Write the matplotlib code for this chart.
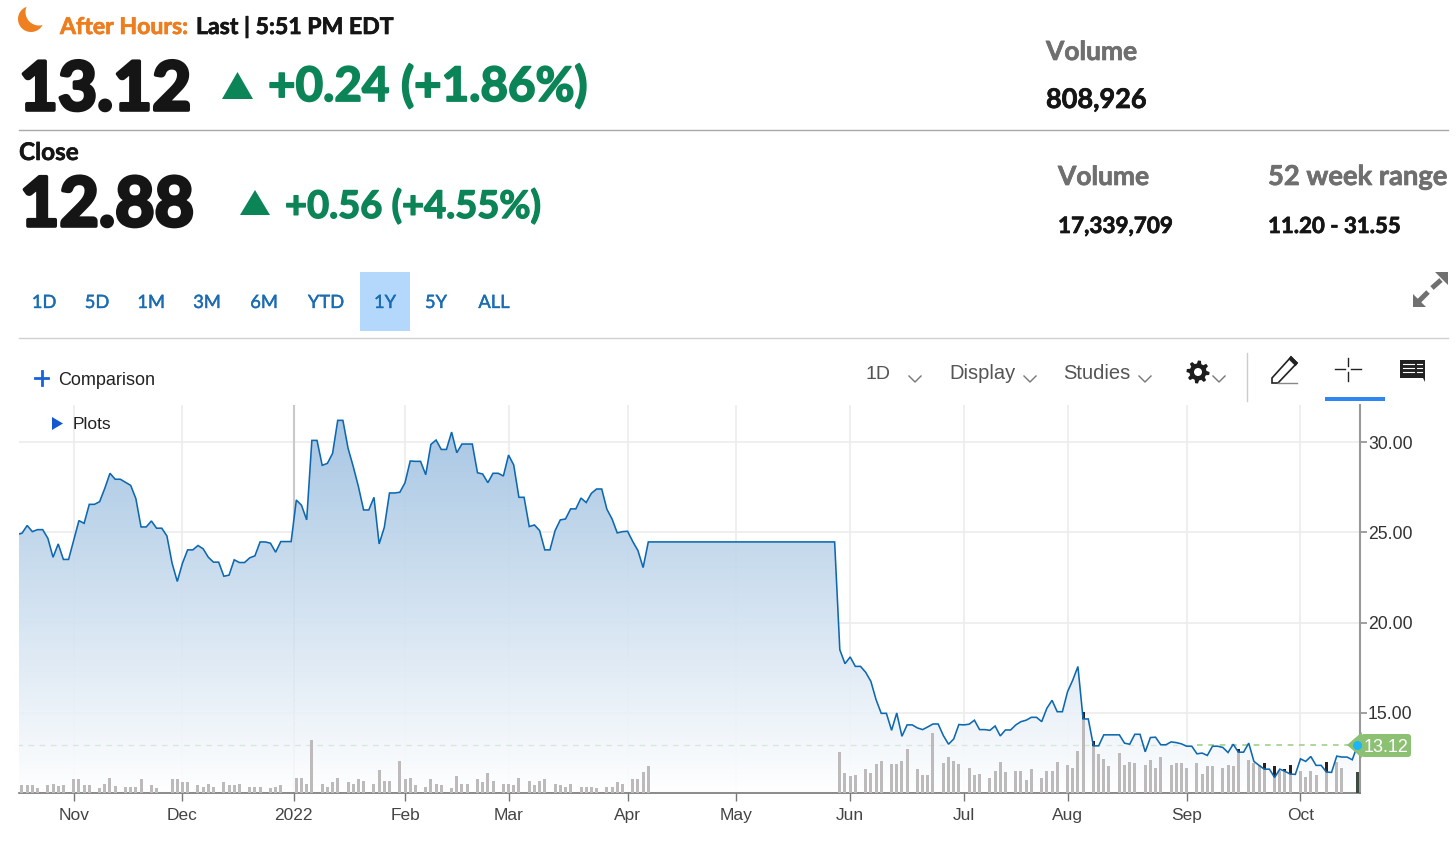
import numpy as np
import matplotlib
matplotlib.use("Agg")
import matplotlib.pyplot as plt
import matplotlib.patheffects as pe
from matplotlib.patches import Circle, Polygon, Rectangle, FancyBboxPatch

# close price per trading day
price = [24.88, 24.95, 25.38, 25.04, 25.15, 25.15, 24.67, 23.62, 24.36, 23.50,
         23.50, 24.58, 25.65, 25.50, 26.55, 26.55, 26.70, 27.44, 28.27, 27.94,
         27.94, 27.77, 27.60, 26.87, 25.30, 25.30, 25.63, 25.23, 25.23, 24.80,
         23.29, 22.28, 23.29, 24.03, 24.03, 24.27, 24.09, 23.62, 23.35, 23.35,
         22.57, 22.63, 23.48, 23.33, 23.33, 23.59, 23.70, 24.47, 24.47, 24.40,
         23.90, 24.49, 24.49, 24.49, 26.79, 26.50, 25.69, 30.09, 30.09, 28.71,
         28.82, 29.37, 31.20, 31.20, 29.65, 28.64, 27.53, 26.24, 26.24, 26.94,
         24.36, 25.28, 27.18, 27.18, 27.22, 27.75, 28.95, 28.93, 28.93, 28.19,
         29.87, 30.11, 29.59, 29.59, 30.55, 29.41, 29.89, 29.89, 29.89, 28.30,
         28.23, 27.75, 28.27, 28.27, 28.12, 29.28, 28.73, 26.94, 26.94, 25.32,
         25.41, 25.10, 24.03, 24.03, 25.10, 25.69, 25.74, 26.30, 26.30, 26.90,
         26.65, 27.16, 27.40, 27.40, 26.28, 25.74, 24.97, 25.04, 25.06, 24.49,
         23.99, 23.05,
         24.47, 24.47, 24.47, 24.47, 24.47, 24.47, 24.47, 24.47, 24.47, 24.47,
         24.47, 24.47, 24.47, 24.47, 24.47, 24.47, 24.47, 24.47, 24.47, 24.47,
         24.47, 24.47, 24.47, 24.47, 24.47, 24.47, 24.47, 24.47, 24.47, 24.47,
         24.47, 24.47, 24.47, 24.47, 24.47, 24.47, 24.47,
         18.50, 17.73, 18.10, 17.58, 17.58, 17.25, 16.75, 15.74, 14.98, 14.98,
         14.04, 15.00, 13.71, 14.34, 14.34, 14.17, 14.08, 14.23, 14.39, 14.39,
         13.75, 13.27, 13.56, 14.36,
         14.34, 14.38, 14.60, 14.08, 14.08, 14.04, 14.28, 13.73, 14.06, 14.06,
         14.34, 14.52, 14.60, 14.76, 14.76, 14.52, 15.26, 15.70, 15.07, 15.07,
         16.18, 16.82, 17.57, 14.67, 14.67, 13.18, 13.18, 13.79, 13.79, 13.79,
         13.79, 13.33, 13.27, 13.82, 13.82, 12.85, 13.64, 13.66, 13.24, 13.24,
         13.40, 13.36, 13.29, 13.16, 13.16, 12.74, 12.78, 12.65, 13.16, 13.16,
         13.09, 12.81, 13.27, 12.83, 12.83, 13.33, 12.32, 12.10, 11.89, 11.89,
         11.43, 11.89, 11.77, 11.62, 11.60, 12.46, 12.32, 12.59, 12.10, 12.10,
         11.73, 11.71, 12.61, 12.56, 12.56, 12.41, 13.20]

# volume bars: trading day number and volume in millions
vol_days = [1, 2, 3, 4, 6, 7, 8, 9, 11, 12, 13, 14, 16, 17, 18, 19, 21, 22, 23, 24,
            26, 27, 30, 31, 32, 33, 35, 36, 37, 38, 40, 41, 42, 43, 45, 46, 47, 49, 50, 51,
            54, 55, 56, 57, 59, 60, 61, 62, 64, 65, 66, 67, 69, 70, 71, 72, 74, 75, 76, 77,
            79, 80, 81, 82, 84, 85, 86, 87, 89, 90, 91, 92, 94, 95, 96, 97, 99, 100, 101, 102,
            104, 105, 106, 107, 109, 110, 111, 112, 114, 115, 116, 117, 119, 120, 121, 122,
            159, 160, 161, 162, 164, 165, 166, 167, 169, 170, 171, 172, 174, 175, 176, 177,
            179, 180, 181, 182, 184, 185, 186, 188, 189, 190, 191, 193, 194, 195, 196,
            198, 199, 200, 201, 203, 204, 205, 206, 208, 209, 210, 211, 213, 214, 215, 216,
            218, 219, 220, 221, 223, 224, 225, 226, 228, 229, 230, 231, 233, 234, 235, 236,
            238, 239, 240, 241, 243, 244, 245, 246, 248, 249, 250, 251, 253, 255, 256, 259]
vol_millions = [6.4, 6.4, 6.4, 4.2, 6.4, 7.8, 5.6, 6.4, 11.7, 11.7, 6.4, 6.4, 4.2, 7.8, 12.8, 5.6, 5.3, 5.3, 5.3, 11.7,
                6.4, 4.2, 11.7, 11.7, 9.2, 9.2, 6.4, 5.3, 7.8, 5.3, 9.2, 6.4, 6.4, 7.8, 5.3, 5.3, 5.3, 4.2, 5.3, 6.4,
                12.8, 12.8, 7.8, 43.9, 7.8, 5.3, 9.2, 12.8, 9.2, 7.8, 11.7, 10.3, 7.8, 19.2, 10.3, 10.3, 26.4, 11.7, 12.8, 6.4,
                5.3, 11.7, 7.8, 6.4, 4.2, 14.2, 7.8, 7.8, 11.7, 9.2, 16.7, 10.3, 7.8, 7.8, 6.4, 12.8, 10.3, 6.4, 10.3, 11.7,
                7.8, 6.4, 5.3, 7.8, 5.3, 5.3, 5.3, 4.2, 5.3, 5.3, 9.2, 7.8, 11.7, 11.7, 17.8, 22.8,
                33.9, 16.7, 14.2, 15.3, 20.3, 16.7, 23.9, 26.4, 23.9, 23.9, 26.4, 36.4, 20.3, 15.3, 15.3, 50.0,
                25.3, 30.3, 26.4, 23.9, 20.8, 14.7, 16.1, 12.5, 18.6, 26.1, 17.2, 18.6, 18.6, 11.1, 19.7,
                12.5, 18.6, 18.6, 26.1, 23.6, 21.1, 34.7, 67.5, 43.3, 32.2, 28.6, 22.5, 33.3, 23.6, 26.1, 24.7,
                23.6, 27.2, 21.1, 29.7, 23.6, 24.7, 24.7, 21.1, 24.7, 16.1, 22.2, 22.2, 21.1, 23.6, 22.2, 36.9,
                27.2, 24.7, 23.6, 24.7, 22.2, 18.6, 19.7, 23.6, 18.6, 13.6, 18.6, 14.7, 26.1, 26.1, 21.1, 17.3]

month_days = [11, 32, 53.5, 75, 95, 118, 139, 161, 183, 203, 226, 248]
month_labels = ["Nov", "Dec", "2022", "Feb", "Mar", "Apr", "May", "Jun", "Jul", "Aug", "Sep", "Oct"]
price_ticks = [15, 20, 25, 30]
last_label = "13.12"
ranges = ["1D", "5D", "1M", "3M", "6M", "YTD", "1Y", "5Y", "ALL"]
range_pos = [44, 97, 151, 207, 264, 326, 385, 436, 494]

W, H = 1456, 856
BLUE = "#0e68b0"
GREEN = "#0b8457"
HEAD = "Lato"
SANS = "Liberation Sans"

fig = plt.figure(figsize=(W / 100, H / 100), dpi=100, facecolor="white")

# page furniture, drawn in pixel coordinates
ov = fig.add_axes([0, 0, 1, 1])
ov.set_xlim(0, W)
ov.set_ylim(H, 0)
ov.axis("off")


def head(x, y, s, color, size, stroke, **kw):
    # the site font is heavier than Lato bold, so thicken it a little
    t = ov.text(x, y, s, color=color, fontsize=size, fontweight="bold", family=HEAD, **kw)
    t.set_path_effects([pe.withStroke(linewidth=stroke, foreground=color)])
    return t


ov.add_patch(Circle((31, 19), 13, fc="#ee8022", ec="none"))
ov.add_patch(Circle((39, 12), 13.5, fc="white", ec="none"))
head(60, 34, "After Hours:", "#ee7d1e", 16.6, 0.5)
head(196, 34, "Last | 5:51 PM EDT", "#151515", 16.6, 0.5)
head(19, 110, "13.12", "#151515", 48.5, 2.6)
ov.add_patch(Polygon([(222, 99), (253, 99), (237.5, 72)], fc=GREEN, ec="none"))
head(268, 101, "+0.24 (+1.86%)", GREEN, 34.2, 1.3)
head(1046, 60, "Volume", "#6f6f6f", 19, 0.5)
head(1046, 108, "808,926", "#151515", 19.5, 0.5)
ov.plot([19, 1448], [129.5, 129.5], color="#a8a8a8", lw=1)

head(19, 160, "Close", "#151515", 17.5, 0.4)
head(20, 226, "12.88", "#151515", 49, 2.6)
ov.add_patch(Polygon([(240, 215), (270, 215), (255, 190)], fc=GREEN, ec="none"))
head(285, 218, "+0.56 (+4.55%)", GREEN, 27.4, 1.0)
head(1058, 185, "Volume", "#6f6f6f", 19, 0.5)
head(1058, 233, "17,339,709", "#151515", 16.2, 0.5)
head(1268, 185, "52 week range", "#6f6f6f", 19.7, 0.5)
head(1268, 233, "11.20 - 31.55", "#151515", 16, 0.5)

ov.add_patch(Rectangle((360, 272), 50, 59, fc="#b3d8fc", ec="none"))
for label, px in zip(ranges, range_pos):
    t = ov.text(px, 308, label, color="#1b6cb3", fontsize=13.2, ha="center", family=HEAD)
    t.set_path_effects([pe.withStroke(linewidth=0.3, foreground="#1b6cb3")])
ov.plot([19, 1448], [338, 338], color="#d0d0d0", lw=1)

# expand arrows
ov.plot([1441, 1432], [280, 288], color="#707070", lw=3.6, solid_capstyle="butt")
ov.plot([1419, 1428], [301, 292], color="#707070", lw=3.6, solid_capstyle="butt")
ov.add_patch(Polygon([(1448, 272), (1435, 272), (1448, 285)], fc="#707070", ec="none"))
ov.add_patch(Polygon([(1413, 307), (1413, 294), (1426, 307)], fc="#707070", ec="none"))

# toolbar
ov.plot([35, 48], [378, 378], color="#1663d8", lw=2)
ov.plot([41.5, 41.5], [371, 385], color="#1663d8", lw=2)
ov.text(58, 385, "Comparison", color="#222222", fontsize=13, family=SANS)
ov.text(865.5, 379, "1D", color="#555555", fontsize=14, family=SANS)
ov.text(949, 379, "Display", color="#555555", fontsize=14.5, family=SANS)
ov.text(1063.5, 379, "Studies", color="#555555", fontsize=14.5, family=SANS)
for cx in [915, 1030, 1145, 1219]:
    ov.plot([cx - 6, cx, cx + 6], [376, 382, 376], color="#777777", lw=1)

# gear
ang = np.radians(np.arange(0, 360, 7.5))
rad = np.where((np.arange(len(ang)) % 6) < 3, 11.5, 8.5)
ov.add_patch(Polygon(np.c_[1198 + rad * np.cos(ang), 372 + rad * np.sin(ang)], fc="#1c1c1c", ec="none"))
ov.add_patch(Circle((1198, 372), 4, fc="white", ec="none"))
ov.plot([1247, 1247], [353, 401], color="#cccccc", lw=1)

# pencil
ov.add_patch(Polygon([(1272, 378), (1272, 383), (1278, 383), (1297, 363), (1291, 357)], fc="white", ec="#222222", lw=1.2))
ov.add_patch(Polygon([(1291, 357), (1297, 363), (1295.5, 365), (1289.5, 359)], fc="#222222", ec="#222222", lw=1.2))
ov.plot([1278, 1297], [383, 383], color="#888888", lw=1)
# crosshair
ov.plot([1335, 1345], [369, 369], color="#222222", lw=1)
ov.plot([1351, 1361], [369, 369], color="#222222", lw=1)
ov.plot([1347.5, 1347.5], [358, 366], color="#222222", lw=1)
ov.plot([1347.5, 1347.5], [372, 381], color="#222222", lw=1)
ov.add_patch(Rectangle((1325, 397), 60, 4, fc="#2f86f0", ec="none"))
# comment box
ov.add_patch(Polygon([(1400, 360), (1425, 360), (1425, 382), (1423, 378), (1400, 378)], fc="#222222", ec="none"))
for yy in [364, 368, 372]:
    ov.plot([1403, 1414], [yy, yy], color="white", lw=0.8)
    ov.plot([1417, 1422], [yy, yy], color="white", lw=0.8)

# chart area
left, right, top, bottom = 19.3, 1359.5, 405, 793
ax = fig.add_axes([left / W, 1 - bottom / H, (right - left) / W, (bottom - top) / H])
ax.patch.set_alpha(0)
days = np.arange(len(price))
ax.set_xlim(0.48, 259.4)
ax.set_ylim(10.57, 32.05)

# gridlines
ax.set_axisbelow(True)
ax.grid(True, color="#ececec", lw=1.2)
ax.axvline(month_days[2], color="#c9c9c9", lw=1.5, zorder=1)

# gradient under the price line, nearly opaque so the grid only just shows through
poly = ax.fill_between(days, price, 10.57, color="none")
grad = np.ones((256, 2, 4))
top_rgb = np.array(matplotlib.colors.to_rgb("#9cbfe0"))
mix = np.linspace(0, 1, 256)[:, None, None]
grad[:, :, :3] = top_rgb * (1 - mix) + 1.0 * mix
grad[:, :, 3] = 0.92
im = ax.imshow(grad, extent=(0.48, 259.4, 10.57, 32.05), aspect="auto", origin="upper", zorder=2)
im.set_clip_path(poly.get_paths()[0], ax.transData)

# volume sits on the baseline, in price units so it can be compared with the line
vol_scale = 1.2 / 18.07
vol_days = np.array(vol_days)
vol_top = 10.57 + np.array(vol_millions) * vol_scale
ax.bar(vol_days[:-1], vol_top[:-1] - 10.57, 0.58, bottom=10.57, color="#bcbaba", zorder=3)
ax.bar(vol_days[-1:], vol_top[-1:] - 10.57, 0.5, bottom=10.57, color="#3c4a40", zorder=3)
under = np.array(price)[vol_days]
above = vol_top > under
ax.bar(vol_days[above], (vol_top - under)[above], 0.58, bottom=under[above], color="#2e1f1f", zorder=3)

ax.plot(days[:228], [price[-1]] * 228, color="#d6e8d6", lw=1, dashes=(4, 4), zorder=2.5)
ax.plot(days[228:], [price[-1]] * len(days[228:]), color="#9fd18a", lw=1.2, dashes=(3.4, 3.4), zorder=2.6)
ax.plot(days, price, color=BLUE, lw=1.15, zorder=4, solid_joinstyle="miter")

ax.set_xticks(month_days, month_labels)
ax.set_yticks(price_ticks, ["%.2f" % v for v in price_ticks])
ax.yaxis.tick_right()
ax.tick_params(axis="x", length=6, width=1, color="#777777", labelcolor="#444444", labelsize=12.5, pad=5)
ax.tick_params(axis="y", length=5, width=1.3, color="#999999", labelcolor="#333333", labelsize=12.7, pad=1)
for lab in ax.get_xticklabels() + ax.get_yticklabels():
    lab.set_family(SANS)
for side in ["left", "top"]:
    ax.spines[side].set_visible(False)
ax.spines["right"].set_color("#999999")
ax.spines["right"].set_linewidth(1.5)
ax.spines["bottom"].set_color("#777777")
ax.spines["bottom"].set_linewidth(1.2)

# labels on top of the chart
ov2 = fig.add_axes([0, 0, 1, 1])
ov2.set_xlim(0, W)
ov2.set_ylim(H, 0)
ov2.axis("off")
ov2.patch.set_alpha(0)
ov2.add_patch(Polygon([(52, 417), (52, 430), (63, 423.5)], fc="#1458d0", ec="none"))
ov2.text(73, 429, "Plots", color="#222222", fontsize=12.5, family=SANS)
ov2.add_patch(FancyBboxPatch((1362, 735), 48, 21, boxstyle="round,pad=1,rounding_size=3", fc="#8cc073", ec="none"))
ov2.add_patch(Polygon([(1362, 732), (1362, 758), (1347, 745)], fc="#8cc073", ec="none"))
ov2.text(1364, 752, last_label, color="white", fontsize=13, family=SANS)
ov2.add_patch(Circle((1357.5, 745.5), 4.5, fc="#1cb5f5", ec="none"))

fig.savefig("out.png", dpi=100)
